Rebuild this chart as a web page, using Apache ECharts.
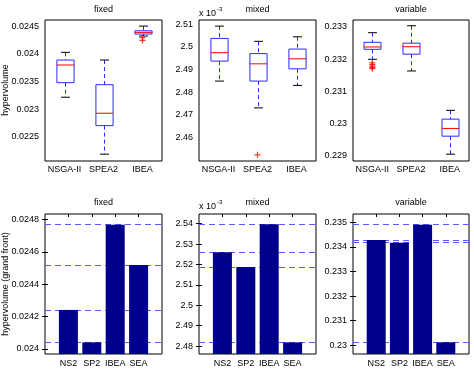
<!DOCTYPE html>
<html>
<head>
<meta charset="utf-8">
<script src="https://cdn.jsdelivr.net/npm/echarts@6/dist/echarts.min.js"></script>
<style>
  html, body { margin: 0; padding: 0; background: #fff; }
  #chart { width: 474px; height: 376px; }
</style>
</head>
<body>
<div id="chart"></div>
<script>
const boxCats = ['NSGA-II', 'SPEA2', 'IBEA'];
const barCats = ['NS2', 'SP2', 'IBEA', 'SEA'];
const titles = ['fixed', 'mixed', 'variable'];

// box rows: [lower whisker, q1, median, q3, upper whisker]
const fixedBox = [
  [0.023213, 0.023477, 0.023796, 0.023886, 0.024025],
  [0.022184, 0.0227, 0.022924, 0.02344, 0.023886],
  [0.02432, 0.024356, 0.024386, 0.024415, 0.0245]
];
const fixedOut = [[2, 0.02429], [2, 0.02424]];
const fixedBoxRange = [0.02206, 0.02461];
const fixedBoxTicks = [0.0225, 0.023, 0.0235, 0.024, 0.0245];

// mixed values are in units of 1e-3
const mixedBox = [
  [2.4849, 2.4937, 2.4974, 2.5037, 2.5091],
  [2.4731, 2.4849, 2.4925, 2.4970, 2.5024],
  [2.4830, 2.4903, 2.4947, 2.4990, 2.5044]
];
const mixedOut = [[1, 2.4524]];
const mixedBoxRange = [2.4497, 2.5118];
const mixedBoxTicks = [2.46, 2.47, 2.48, 2.49, 2.5, 2.51];

const variableBox = [
  [0.231991, 0.2323, 0.232372, 0.232517, 0.232814],
  [0.23163, 0.23215, 0.23238, 0.23249, 0.23303],
  [0.229056, 0.229613, 0.229852, 0.23014, 0.230412]
];
const variableOut = [[0, 0.23188], [0, 0.23183], [0, 0.23178], [0, 0.23174], [0, 0.2317]];
const variableBoxRange = [0.228845, 0.233207];
const variableBoxTicks = [0.229, 0.23, 0.231, 0.232, 0.233];

const fixedBars = [0.024241, 0.024041, 0.024767, 0.024518];
const fixedBarRange = [0.023969, 0.024833];
const fixedBarTicks = [0.024, 0.0242, 0.0244, 0.0246, 0.0248];

const mixedBars = [2.5260, 2.5188, 2.5397, 2.4818];
const mixedBarRange = [2.4761, 2.54475];
const mixedBarTicks = [2.48, 2.49, 2.5, 2.51, 2.52, 2.53, 2.54];

const variableBars = [0.23428, 0.234171, 0.234903, 0.230122];
const variableBarRange = [0.229646, 0.235337];
const variableBarTicks = [0.23, 0.231, 0.232, 0.233, 0.234, 0.235];

const FONT = 'Liberation Sans, Arial, sans-serif';
const lefts = [45, 199, 353];
const widths = [117, 117, 116];
const tops = [20, 214];
const heights = [141, 140];

const boxSets = [
  { box: fixedBox, out: fixedOut, range: fixedBoxRange, ticks: fixedBoxTicks },
  { box: mixedBox, out: mixedOut, range: mixedBoxRange, ticks: mixedBoxTicks },
  { box: variableBox, out: variableOut, range: variableBoxRange, ticks: variableBoxTicks }
];
const barSets = [
  { bars: fixedBars, range: fixedBarRange, ticks: fixedBarTicks },
  { bars: mixedBars, range: mixedBarRange, ticks: mixedBarTicks },
  { bars: variableBars, range: variableBarRange, ticks: variableBarTicks }
];

const fmt = (v) => String(parseFloat(Number(v).toPrecision(8)));

function renderBox(params, api) {
  const i = api.value(0);
  const lo = api.coord([i, api.value(1)]);
  const q1 = api.coord([i, api.value(2)]);
  const md = api.coord([i, api.value(3)]);
  const q3 = api.coord([i, api.value(4)]);
  const hi = api.coord([i, api.value(5)]);
  const band = api.size([1, 0])[0];
  const hw = band * 0.22, cw = band * 0.115;
  const x = Math.round(lo[0]) + 0.5;
  const blue = '#2a2aff';
  const dash = { stroke: blue, lineWidth: 1, lineDash: [4, 3] };
  const cap = { stroke: '#000', lineWidth: 1 };
  return {
    type: 'group',
    children: [
      { type: 'line', shape: { x1: x, y1: hi[1], x2: x, y2: q3[1] }, style: dash },
      { type: 'line', shape: { x1: x, y1: q1[1], x2: x, y2: lo[1] }, style: dash },
      { type: 'line', shape: { x1: x - cw, y1: hi[1], x2: x + cw, y2: hi[1] }, style: cap },
      { type: 'line', shape: { x1: x - cw, y1: lo[1], x2: x + cw, y2: lo[1] }, style: cap },
      { type: 'rect', shape: { x: x - hw, y: q3[1], width: 2 * hw, height: q1[1] - q3[1] },
        style: { stroke: blue, fill: 'none', lineWidth: 1 } },
      { type: 'line', shape: { x1: x - hw, y1: md[1], x2: x + hw, y2: md[1] },
        style: { stroke: '#ff0000', lineWidth: 1 } }
    ]
  };
}

const grid = [], xAxis = [], yAxis = [], series = [], graphic = [];
const tickStyle = { inside: true, length: 3, lineStyle: { color: '#000', width: 1 } };
const labelStyle = { color: '#000', fontSize: 9, fontFamily: FONT };

for (let row = 0; row < 2; row++) {
  for (let c = 0; c < 3; c++) {
    const g = grid.length;
    grid.push({ left: lefts[c], top: tops[row], width: widths[c], height: heights[row],
      show: true, borderColor: '#000', borderWidth: 1, backgroundColor: '#fff' });
    const set = row === 0 ? boxSets[c] : barSets[c];
    // x axes (bottom with labels, top ticks only)
    for (const pos of ['bottom', 'top']) {
      if (row === 0) {
        xAxis.push({ type: 'category', gridIndex: g, position: pos, data: boxCats,
          axisLine: { show: false },
          axisTick: Object.assign({ alignWithLabel: true }, tickStyle),
          axisLabel: Object.assign({ show: pos === 'bottom', margin: 4, interval: 0 }, labelStyle) });
      } else {
        xAxis.push({ type: 'value', gridIndex: g, position: pos, min: 0, max: 5,
          axisLine: { show: false }, splitLine: { show: false },
          axisTick: Object.assign({ customValues: [1, 2, 3, 4] }, tickStyle),
          axisLabel: Object.assign({ show: pos === 'bottom', margin: 5,
            customValues: [1, 2, 3, 4], formatter: (v) => barCats[v - 1] }, labelStyle) });
      }
    }
    // y axes (left with labels, right ticks only)
    for (const pos of ['left', 'right']) {
      yAxis.push({ type: 'value', gridIndex: g, position: pos,
        min: set.range[0], max: set.range[1],
        axisLine: { show: false }, splitLine: { show: false },
        axisTick: Object.assign({ customValues: set.ticks }, tickStyle),
        axisLabel: Object.assign({ show: pos === 'left', margin: 6,
          customValues: set.ticks, formatter: fmt }, labelStyle) });
    }
    const xi = g * 2, yi = g * 2;
    if (row === 0) {
      series.push({ type: 'custom', xAxisIndex: xi, yAxisIndex: yi,
        renderItem: renderBox, encode: { x: 0, y: [1, 2, 3, 4, 5] },
        data: set.box.map((b, i) => [i].concat(b)) });
      series.push({ type: 'scatter', xAxisIndex: xi, yAxisIndex: yi,
        symbol: 'path://M4,0H6V10H4Z M0,4H10V6H0Z', symbolSize: 6,
        itemStyle: { color: '#ff0000' }, data: set.out });
    } else {
      series.push({ type: 'bar', xAxisIndex: xi, yAxisIndex: yi, barWidth: 19, clip: true, z: 4,
        itemStyle: { color: '#00008c' },
        data: set.bars.map((v, i) => [i + 1, v]),
        markLine: { silent: true, symbol: 'none', precision: 8, z: 1, label: { show: false },
          lineStyle: { color: '#5a5aff', type: [6, 4], width: 1 },
          data: set.bars.map((v) => ({ yAxis: v })) } });
    }
    graphic.push({ type: 'text', x: lefts[c] + widths[c] / 2, y: row === 0 ? 10 : 203,
      style: { text: titles[c], align: 'center', verticalAlign: 'middle',
        fontSize: 9, fontFamily: FONT, fill: '#000' } });
  }
}

// exponent labels for the mixed panels
for (const y of [14, 207]) {
  graphic.push({ type: 'text', x: 199, y: y,
    style: { text: 'x 10', align: 'left', verticalAlign: 'middle', fontSize: 9, fontFamily: FONT, fill: '#000' } });
  graphic.push({ type: 'text', x: 217, y: y - 5,
    style: { text: '-3', align: 'left', verticalAlign: 'middle', fontSize: 6, fontFamily: FONT, fill: '#000' } });
}
graphic.push({ type: 'text', x: 6, y: 90, rotation: Math.PI / 2,
  style: { text: 'hypervolume', align: 'center', verticalAlign: 'middle', fontSize: 9, fontFamily: FONT, fill: '#000' } });
graphic.push({ type: 'text', x: 6, y: 284, rotation: Math.PI / 2,
  style: { text: 'hypervolume (grand front)', align: 'center', verticalAlign: 'middle', fontSize: 9, fontFamily: FONT, fill: '#000' } });

const chart = echarts.init(document.getElementById('chart'));
chart.setOption({ animation: false, grid, xAxis, yAxis, series, graphic });
</script>
</body>
</html>
